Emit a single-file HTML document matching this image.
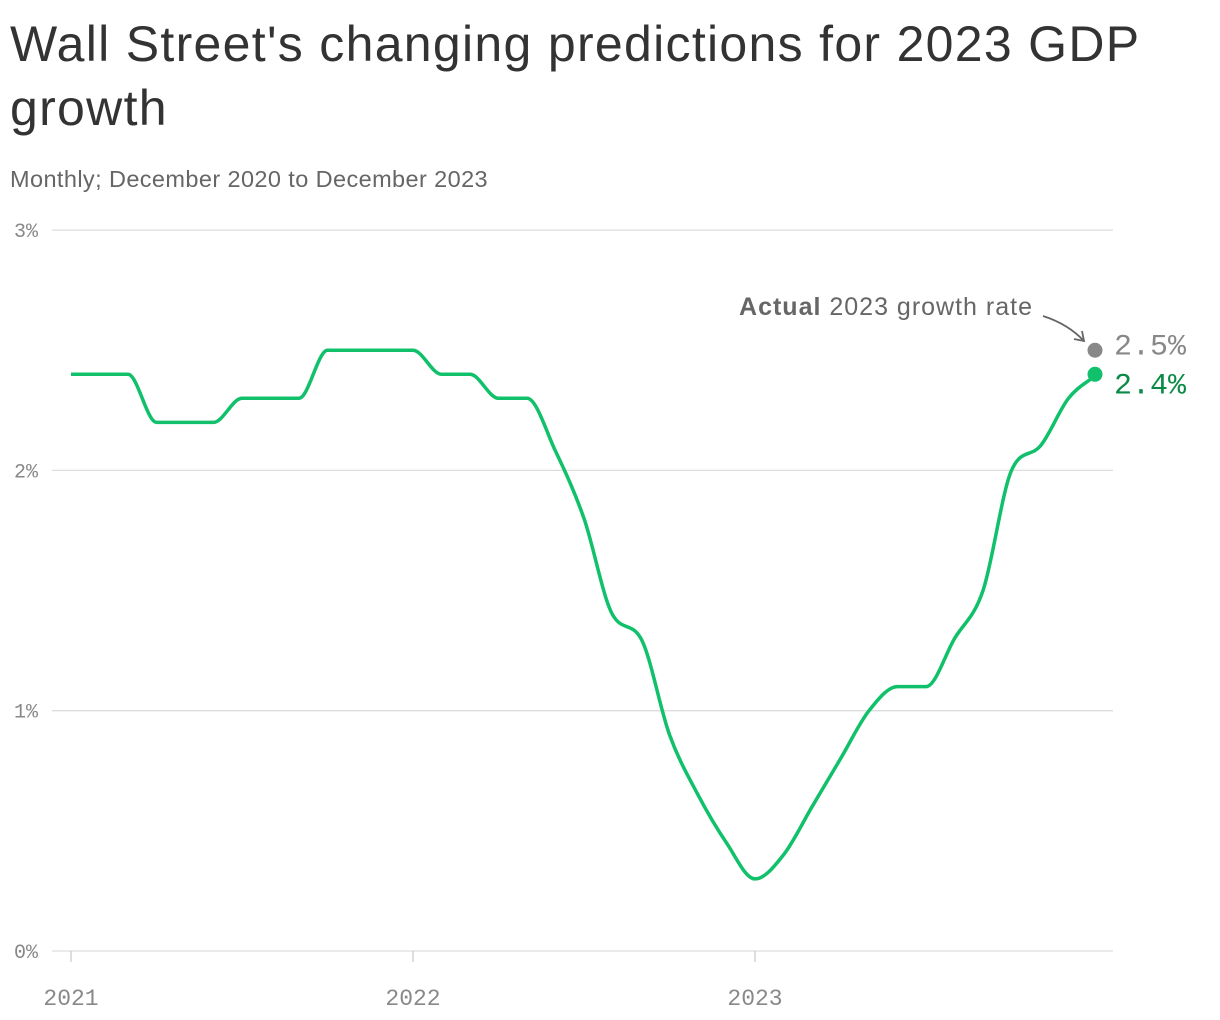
<!DOCTYPE html>
<html><head><meta charset="utf-8"><style>
body{margin:0;background:#fff;width:1220px;height:1020px;overflow:hidden;font-family:"Liberation Sans",sans-serif}
h1{position:absolute;left:10px;top:12px;margin:0;font-weight:400;font-size:50px;line-height:64px;color:#333;width:1170px;letter-spacing:1.3px}
.sub{position:absolute;left:10px;top:166px;font-size:23.5px;color:#666;letter-spacing:0.4px}
svg{position:absolute;left:0;top:0}
</style></head><body>
<h1>Wall Street's changing predictions for 2023 GDP growth</h1>
<div class="sub">Monthly; December 2020 to December 2023</div>
<svg id="c" width="1220" height="1020"></svg>
<script>
const values=[2.4,2.4,2.4,2.2,2.2,2.2,2.3,2.3,2.3,2.5,2.5,2.5,2.5,2.4,2.4,2.3,2.3,2.08,1.8,1.4,1.3,0.9,0.65,0.45,0.3,0.4,0.6,0.8,1.0,1.1,1.1,1.3,1.5,2.0,2.1,2.3,2.4];
const yTicks=[0,1,2,3];
const yTickLabels=["0%","1%","2%","3%"];
const xTickMonths=[0,12,24];
const xTickLabels=["2021","2022","2023"];
const actualValue=[2.5];
const NS="http://www.w3.org/2000/svg";
const svg=document.getElementById('c');
const x=i=>71+i*28.5;
const y=v=>951-v*240.3;
function mk(t,a){const e=document.createElementNS(NS,t);for(const k in a)e.setAttribute(k,a[k]);svg.appendChild(e);return e;}
yTicks.forEach((t,i)=>{
 const l=mk('line',{x1:52,x2:1113,y1:y(t),y2:y(t),stroke:'#ddd','stroke-width':1.3});
 
 
 const tx=mk('text',{x:14,y:y(t)+7,'font-family':'Liberation Mono, monospace','font-size':20,fill:'#888'});
 tx.textContent=yTickLabels[i];
 
 
});
xTickMonths.forEach((m,i)=>{
 const l=mk('line',{x1:x(m),x2:x(m),y1:951,y2:962,stroke:'#ccc','stroke-width':1.3});
 
 
 const tx=mk('text',{x:x(m),y:1005,'text-anchor':'middle','font-family':'Liberation Mono, monospace','font-size':23,fill:'#888'});
 tx.textContent=xTickLabels[i];
 
 
});
const P=values.map((v,i)=>[x(i),y(v)]);const n=P.length;
const d=[],m=[];
for(let i=0;i<n-1;i++)d.push((P[i+1][1]-P[i][1])/(P[i+1][0]-P[i][0]));
for(let i=0;i<n;i++){if(i==0)m.push(d[0]);else if(i==n-1)m.push(d[n-2]);else m.push(d[i-1]*d[i]<=0?0:(d[i-1]+d[i])/2);}
for(let i=0;i<n-1;i++){if(d[i]==0){m[i]=0;m[i+1]=0;continue;}const a=m[i]/d[i],b=m[i+1]/d[i],s=a*a+b*b;if(s>9){const t=3/Math.sqrt(s);m[i]=t*a*d[i];m[i+1]=t*b*d[i];}}
let path='M'+P[0][0]+','+P[0][1];
for(let i=0;i<n-1;i++){const h=(P[i+1][0]-P[i][0])/3;path+=`C${P[i][0]+h},${P[i][1]+m[i]*h} ${P[i+1][0]-h},${P[i+1][1]-m[i+1]*h} ${P[i+1][0]},${P[i+1][1]}`;}
const ln=mk('path',{d:path,fill:'none',stroke:'#10c06a','stroke-width':3.5,'stroke-linejoin':'round'});


const last=n-1;
const ax=x(last)-2;
const ad=mk('circle',{cx:ax,cy:y(actualValue[0]),r:7.5,fill:'#888'});


const fd=mk('circle',{cx:ax,cy:y(values[last]),r:7.5,fill:'#10c06a'});


const al=mk('text',{x:1114,y:y(actualValue[0])+4,'font-family':'Liberation Mono, monospace','font-size':30,fill:'#888'});
al.textContent=actualValue[0].toFixed(1)+'%';


const fl=mk('text',{x:1114,y:y(values[last])+19,'font-family':'Liberation Mono, monospace','font-size':30,fill:'#0a8a45'});
fl.textContent=values[last].toFixed(1)+'%';


const an=mk('text',{x:1033,y:315,'text-anchor':'end','font-size':25,fill:'#666','letter-spacing':'1'});
an.innerHTML='<tspan font-weight="bold">Actual</tspan> 2023 growth rate';


const ar=mk('path',{d:'M1043,316 Q1068,324 1084,341 M1074,339 L1084,341 L1082,331',fill:'none',stroke:'#666','stroke-width':1.8});


</script>
</body></html>
